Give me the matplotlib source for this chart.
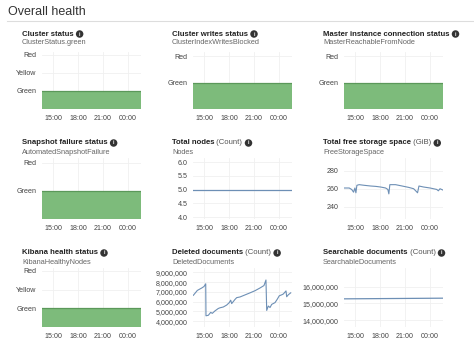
import matplotlib
matplotlib.use('Agg')
import matplotlib.pyplot as plt
from matplotlib.ticker import StrMethodFormatter
import numpy as np

plt.rcParams['font.family'] = ['Liberation Sans', 'DejaVu Sans']

W, H = 474, 355

# time axis (hours, 24 = 00:00)
t_range = (13.65, 25.55)
tick_hours = [15, 18, 21, 24]
tick_names = ['15:00', '18:00', '21:00', '00:00']

# status charts: 1 = Green the whole time
status_t = [13.65, 25.55]
cluster_status = [1, 1]
writes_status = [1, 1]
master_status = [1, 1]
snapshot_status = [1, 1]
kibana_status = [1, 1]
levels3 = ['Green', 'Yellow', 'Red']
levels2 = ['Green', 'Red']

nodes_t = [13.65, 25.55]
nodes = [5.0, 5.0]

storage_t = [13.69, 14.28, 14.57, 14.80, 14.96, 15.08, 15.20, 15.47, 16.07, 16.86,
             17.46, 18.05, 18.65, 18.92, 19.04, 19.16, 19.84, 20.64, 21.42, 22.02,
             22.34, 22.49, 22.66, 23.21, 24.00, 24.80, 24.99, 25.19, 25.55]
storage = [260.8, 260.8, 259.2, 256.2, 260.8, 255.5, 263.8, 264.5, 263.8, 263.0,
           262.6, 261.9, 260.8, 259.2, 254.3, 264.5, 264.5, 263.0, 261.5, 260.0,
           257.0, 255.5, 263.0, 261.9, 260.8, 259.2, 257.7, 260.0, 258.5]

deleted_t = [13.69, 14.01, 14.17, 14.70, 14.97, 15.18, 15.21, 15.49, 15.78, 15.97,
             16.29, 16.69, 16.90, 17.29, 17.70, 18.01, 18.18, 18.30, 18.70, 18.90,
             19.30, 19.90, 20.50, 21.10, 21.70, 22.18, 22.42, 22.51, 22.70, 22.91,
             23.11, 23.51, 23.78, 24.02, 24.31, 24.50, 24.83, 24.91, 25.10, 25.39]
deleted = [6.65, 6.98, 7.15, 7.40, 7.55, 7.83, 4.55, 4.60, 4.90, 4.80,
           5.05, 5.30, 5.37, 5.45, 5.65, 5.90, 6.15, 5.80, 6.23, 6.41,
           6.48, 6.69, 6.90, 7.12, 7.40, 7.65, 8.22, 5.10, 5.55, 5.40,
           5.72, 5.90, 6.25, 6.60, 6.70, 6.78, 7.10, 6.50, 6.70, 6.90]

search_t = [13.65, 25.55]
searchable = [15.27, 15.31]

panels = [
    # title, unit, subtitle, column x (text), axes box (l, t, r, b) in px
    ('Cluster status', '', 'ClusterStatus.green', 22, (42, 52, 141, 109)),
    ('Cluster writes status', '', 'ClusterIndexWritesBlocked', 172, (193, 52, 292, 109)),
    ('Master instance connection status', '', 'MasterReachableFromNode', 323, (344, 52, 443, 109)),
    ('Snapshot failure status', '', 'AutomatedSnapshotFailure', 22, (42, 158, 141, 219)),
    ('Total nodes', ' (Count)', 'Nodes', 172, (193, 158, 292, 219)),
    ('Total free storage space', ' (GiB)', 'FreeStorageSpace', 323, (344, 158, 443, 219)),
    ('Kibana health status', '', 'KibanaHealthyNodes', 22, (42, 268, 141, 327)),
    ('Deleted documents', ' (Count)', 'DeletedDocuments', 172, (193, 268, 292, 327)),
    ('Searchable documents', ' (Count)', 'SearchableDocuments', 323, (344, 268, 443, 327)),
]

title_y = [34, 143, 253]
line_col = '#6d8fb5'
grid_col = '#f0f0f0'
green = '#7dbb7b'
green_edge = '#5b985a'

fig = plt.figure(figsize=(W / 100, H / 100), dpi=100)
fig.patch.set_facecolor('white')

fig.text(8 / W, 1 - 12 / H, 'Overall health', fontsize=9, color='#333333', va='center')
fig.add_artist(plt.Line2D([7 / W, 1], [1 - 20.5 / H] * 2, color='#dddddd', lw=0.8))

fig.canvas.draw()
r = fig.canvas.get_renderer()

axes = []
for i, (title, unit, sub, tx, box) in enumerate(panels):
    ty = title_y[i // 3]
    t = fig.text(tx / W, 1 - ty / H, title, fontsize=5.6, fontweight='bold',
                 color='#222222', va='center')
    x_end = t.get_window_extent(renderer=r).x1
    if unit:
        u = fig.text(x_end / W, 1 - ty / H, unit, fontsize=5.6, color='#555555', va='center')
        x_end = u.get_window_extent(renderer=r).x1
    fig.text((x_end + 6) / W, 1 - ty / H, 'i', fontsize=3.6, fontweight='bold', color='white',
             ha='center', va='center',
             bbox=dict(boxstyle='circle,pad=0.25', fc='#333333', ec='none'))
    fig.text(tx / W, 1 - (ty + 9) / H, sub, fontsize=5.3, color='#666666', va='center')

    l, tp, rr, b = box
    ax = fig.add_axes([l / W, 1 - b / H, (rr - l) / W, (b - tp) / H])
    for s in ax.spines.values():
        s.set_visible(False)
    ax.set_xlim(*t_range)
    ax.set_xticks(tick_hours)
    ax.set_xticklabels(tick_names)
    ax.tick_params(length=0, labelsize=5.1, labelcolor='#444444', pad=4)
    ax.grid(True, color=grid_col, lw=0.6)
    ax.set_axisbelow(True)
    axes.append(ax)


def status_chart(ax, vals, names):
    ax.fill_between(status_t, 0, vals, color=green, lw=0, zorder=2)
    ax.plot(status_t, vals, color=green_edge, lw=0.9, zorder=3)
    ax.set_yticks(range(1, len(names) + 1))
    ax.set_yticklabels(names)
    ax.set_ylim(0, len(names) + 0.16)


status_chart(axes[0], cluster_status, levels3)
status_chart(axes[1], writes_status, levels2)
status_chart(axes[2], master_status, levels2)
status_chart(axes[3], snapshot_status, levels2)
status_chart(axes[6], kibana_status, levels3)

ax = axes[4]
ax.plot(nodes_t, nodes, color=line_col, lw=0.9)
ax.set_ylim(3.93, 6.15)
ax.set_yticks([4.0, 4.5, 5.0, 5.5, 6.0])
ax.yaxis.set_major_formatter(StrMethodFormatter('{x:.1f}'))

ax = axes[5]
ax.plot(storage_t, storage, color=line_col, lw=0.8)
ax.set_ylim(226.5, 294)
ax.set_yticks([240, 260, 280])

ax = axes[7]
ax.plot(deleted_t, np.array(deleted) * 1e6, color=line_col, lw=0.8)
ax.set_ylim(3.4e6, 9.45e6)
ax.set_yticks([4e6, 5e6, 6e6, 7e6, 8e6, 9e6])
ax.yaxis.set_major_formatter(StrMethodFormatter('{x:,.0f}'))

ax = axes[8]
ax.plot(search_t, np.array(searchable) * 1e6, color=line_col, lw=0.9)
ax.set_ylim(13.6e6, 17.1e6)
ax.set_yticks([14e6, 15e6, 16e6])
ax.yaxis.set_major_formatter(StrMethodFormatter('{x:,.0f}'))

fig.savefig('out.png', dpi=100)
